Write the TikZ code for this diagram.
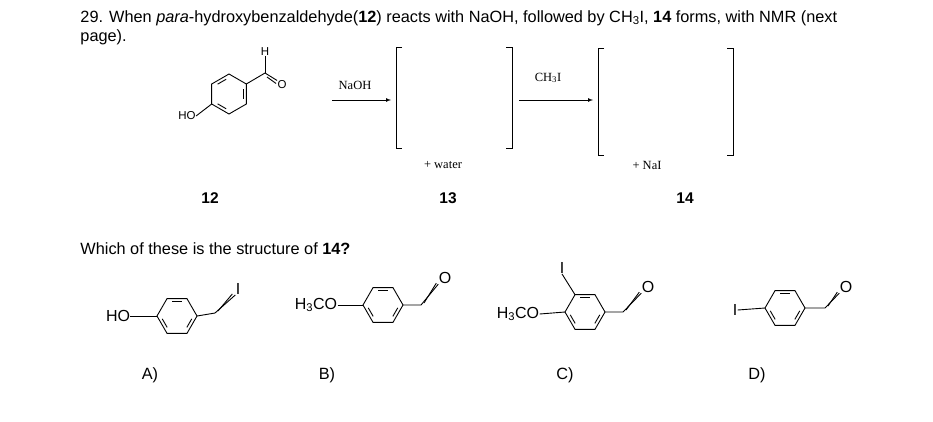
\documentclass[tikz,border=0pt]{standalone}
\usepackage{fontspec}
\setmainfont{Liberation Sans}
\newfontfamily\tms{Liberation Serif}
\usetikzlibrary{calc}
\tikzset{ring/.pic={
  \foreach \k in {0,...,5}{\coordinate (-v\k) at ({\rot+60*\k}:20);}
  \draw (-v0)--(-v1)--(-v2)--(-v3)--(-v4)--(-v5)--cycle;
  \foreach \k in {0,2,4}{
    \draw ($({\rot+60*\k}:20)!0.2!({\rot+60*\k+60}:20)!0.18!(0,0)$) -- ($({\rot+60*\k+60}:20)!0.2!({\rot+60*\k}:20)!0.18!(0,0)$);}
}}
\begin{document}
\begin{tikzpicture}[x=1pt,y=-1pt,line width=0.9pt,
  lbl/.style={inner sep=0pt,font=\fontsize{16.3}{18}\selectfont},
  num/.style={inner sep=0pt,font=\bfseries\fontsize{15.5}{18}\selectfont},
  chem/.style={inner sep=0pt,font=\fontsize{16}{18}\selectfont},
  small/.style={inner sep=0pt,font=\fontsize{11.5}{13}\selectfont},
  rxn/.style={inner sep=0pt,font=\tms\fontsize{12.5}{14}\selectfont},
  brk/.style={line width=0.7pt},
  arr/.style={-latex,line width=0.7pt}]
\useasboundingbox (0,0) rectangle (933,421);
\node[lbl,anchor=base west] (t1) at (80,22) {29. When \textit{para}-hydroxybenzaldehyde(\textbf{12}) reacts with NaOH, followed by CH\textsubscript{3}I, \textbf{14} forms, with NMR (next};
\node[lbl,anchor=base west] (t2) at (80,41) {page).};
\def\rot{90}
\pic (r12) at (229,94) {ring};
\coordinate (c12) at (265,73);
\node[small] (ho12) at (187,116) {HO};
\node[small] (h12) at (265,52) {H};
\node[small] (o12) at (282,85) {O};
\draw (r12-v4) -- (c12);
\draw (r12-v1) -- (ho12.east);
\draw (c12) -- (h12.south);
\draw (c12) -- (o12.north west);
\draw ($(c12)+(2,4)$) -- ($(o12.north west)+(-1,3)$);
\node[rxn] (naoh) at (355,85) {NaOH};
\coordinate (a1s) at (332,100); \coordinate (a1e) at (391,100);
\draw[arr] (a1s) -- (a1e);
\coordinate (b1) at (396,47); \coordinate (b1b) at (396,148);
\coordinate (b2) at (512,47); \coordinate (b2b) at (512,148);
\draw[brk] ($(b1)+(6,0)$) -- (b1) -- (b1b) -- ($(b1b)+(6,0)$);
\draw[brk] ($(b2)+(-6,0)$) -- (b2) -- (b2b) -- ($(b2b)+(-6,0)$);
\node[rxn] (w) at (443,165) {+ water};
\node[num] (n13) at (448,198) {13};
\node[rxn] (ch3i) at (548,78) {CH\textsubscript{3}I};
\coordinate (a2s) at (519,100); \coordinate (a2e) at (593,100);
\draw[arr] (a2s) -- (a2e);
\coordinate (b3) at (598,48); \coordinate (b3b) at (598,155);
\coordinate (b4) at (733,48); \coordinate (b4b) at (733,155);
\draw[brk] ($(b3)+(6,0)$) -- (b3) -- (b3b) -- ($(b3b)+(6,0)$);
\draw[brk] ($(b4)+(-6,0)$) -- (b4) -- (b4b) -- ($(b4b)+(-6,0)$);
\node[rxn] (nai) at (647,165) {+ NaI};
\node[num] (n14) at (685,198) {14};
\node[num] (n12) at (210,198) {12};
\node[lbl,anchor=base west] (q) at (80,254) {Which of these is the structure of \textbf{14?}};
\def\rot{0}
\pic (ra) at (177,316) {ring};
\node[chem] (hoa) at (118,316) {HO};
\coordinate (ca) at (215,313);
\node[chem] (ia) at (238,289) {I};
\draw (hoa.east) -- (ra-v3);
\draw (ra-v0) -- (ca) -- (ia.south west);
\draw ($(ca)+(3,-2)$) -- ($(ia.south west)+(-3,-1)$);
\pic (rb) at (383,305) {ring};
\node[chem] (mb) at (316,305) {H\textsubscript{3}CO};
\coordinate (cb) at (421,305);
\node[chem] (ob) at (445,278) {O};
\draw (mb.east) -- (rb-v3);
\draw (rb-v0) -- (cb) -- (ob.south west);
\draw ($(cb)+(3,-2)$) -- ($(ob.south west)+(-2,-1)$);
\pic (rc) at (585,312) {ring};
\node[chem] (mc) at (518,314) {H\textsubscript{3}CO};
\node[chem] (ic) at (562,268) {I};
\coordinate (cc) at (623,312);
\node[chem] (oc) at (648,287) {O};
\draw (mc.east) -- (rc-v3);
\draw (rc-v4) -- (ic.south);
\draw (rc-v0) -- (cc) -- (oc.south west);
\draw ($(cc)+(3,-2)$) -- ($(oc.south west)+(-2,-1)$);
\pic (rd) at (785,308) {ring};
\node[chem] (id) at (735,310) {I};
\coordinate (cd) at (825,308);
\node[chem] (od) at (846,287) {O};
\draw (id.east) -- (rd-v3);
\draw (rd-v0) -- (cd) -- (od.south west);
\draw ($(cd)+(3,-2)$) -- ($(od.south west)+(-2,-1)$);
\node[lbl] (la) at (150,375) {A)};
\node[lbl] (lb) at (327,375) {B)};
\node[lbl] (lc) at (565,375) {C)};
\node[lbl] (ld) at (757,375) {D)};
\end{tikzpicture}
\end{document}
